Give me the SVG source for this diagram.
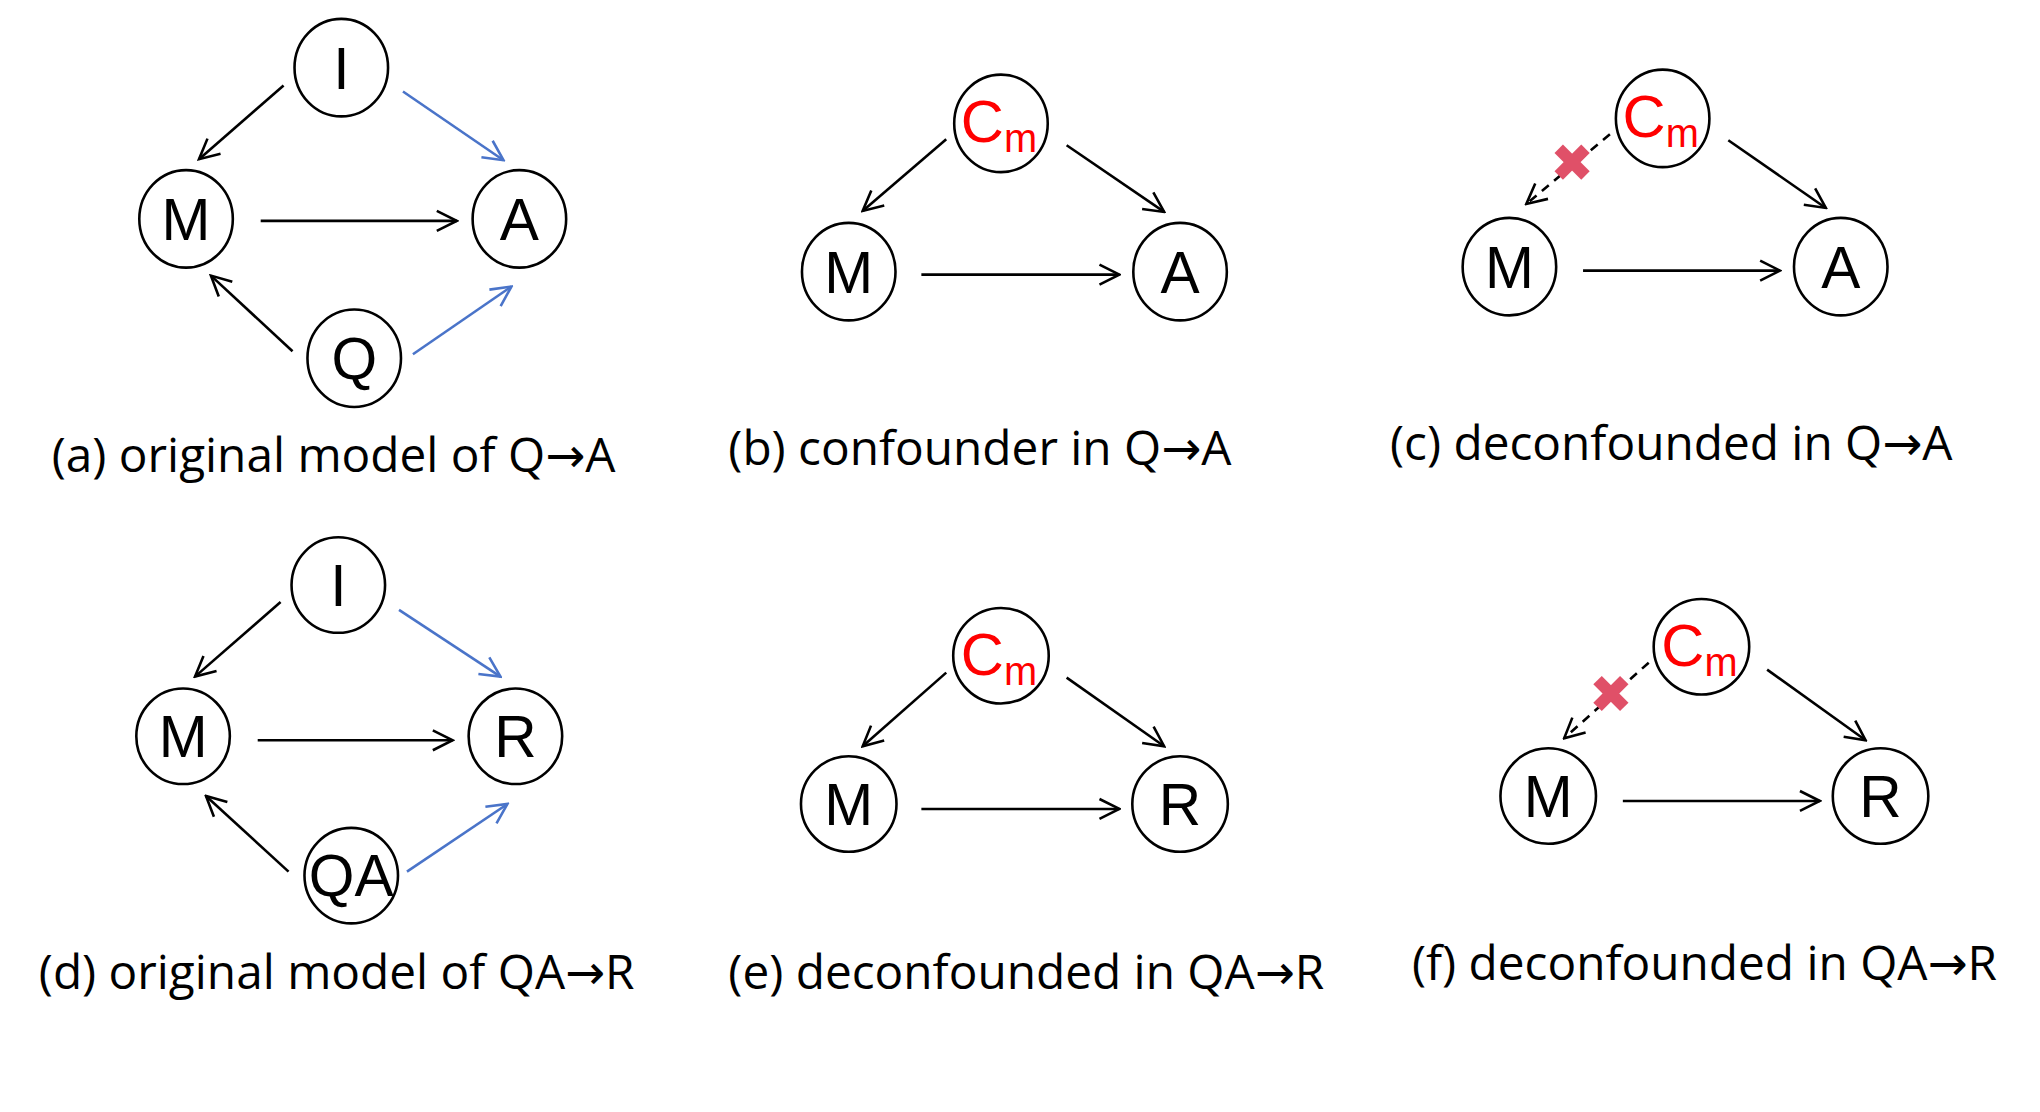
<svg xmlns="http://www.w3.org/2000/svg" width="2040" height="1112" viewBox="0 0 2040 1112">
<style>
.node ellipse{fill:#fff;stroke:#000;stroke-width:2.6}
.lbl{font-family:"Liberation Sans",Arial,sans-serif;font-size:59px;fill:#000;text-anchor:middle}
.cm{font-family:"Liberation Sans",Arial,sans-serif;fill:#ff0000}
.cap{font-family:"Open Sans","Noto Sans",sans-serif;font-size:48px;fill:#000}
.arr{font-family:"DejaVu Sans",sans-serif;font-size:48px}
.e{fill:none;stroke:#000;stroke-width:2.6}
.b{fill:none;stroke:#4a74c9;stroke-width:2.6}
.d{fill:none;stroke:#000;stroke-width:2.6;stroke-dasharray:9 7}
.x{fill:#e05068}
</style>
<defs>
<marker id="ah" viewBox="-24 -13 26 26" markerWidth="26" markerHeight="26" refX="0" refY="0" orient="auto" markerUnits="userSpaceOnUse">
<path d="M-20,-10 L0,0 L-20,10" fill="none" stroke="#000" stroke-width="2.6"/>
</marker>
<marker id="ahb" viewBox="-24 -13 26 26" markerWidth="26" markerHeight="26" refX="0" refY="0" orient="auto" markerUnits="userSpaceOnUse">
<path d="M-20,-10 L0,0 L-20,10" fill="none" stroke="#4a74c9" stroke-width="2.6"/>
</marker>
</defs>
<rect width="2040" height="1112" fill="#fff"/>
<g transform="scale(0.995)">
<g id="connectors">
<line class="e" x1="285" y1="86" x2="200" y2="160" marker-end="url(#ah)"/>
<line class="b" x1="405" y1="92" x2="506" y2="161" marker-end="url(#ahb)"/>
<line class="e" x1="262" y1="222" x2="459" y2="222" marker-end="url(#ah)"/>
<line class="e" x1="294" y1="353" x2="212" y2="277" marker-end="url(#ah)"/>
<line class="b" x1="415" y1="356" x2="514" y2="288" marker-end="url(#ahb)"/>
<line class="e" x1="951" y1="140" x2="867" y2="212" marker-end="url(#ah)"/>
<line class="e" x1="1072" y1="146" x2="1170" y2="213" marker-end="url(#ah)"/>
<line class="e" x1="926" y1="276" x2="1125" y2="276" marker-end="url(#ah)"/>
<line class="d" x1="1618" y1="135" x2="1534" y2="205" marker-end="url(#ah)"/>
<line class="e" x1="1737" y1="141" x2="1835" y2="209" marker-end="url(#ah)"/>
<line class="e" x1="1591" y1="272" x2="1789" y2="272" marker-end="url(#ah)"/>
<line class="e" x1="282" y1="605" x2="196" y2="680" marker-end="url(#ah)"/>
<line class="b" x1="401" y1="613" x2="503" y2="680" marker-end="url(#ahb)"/>
<line class="e" x1="259" y1="744" x2="455" y2="744" marker-end="url(#ah)"/>
<line class="e" x1="290" y1="876" x2="207" y2="800" marker-end="url(#ah)"/>
<line class="b" x1="409" y1="876" x2="510" y2="808" marker-end="url(#ahb)"/>
<line class="e" x1="951" y1="676" x2="867" y2="750" marker-end="url(#ah)"/>
<line class="e" x1="1072" y1="681" x2="1170" y2="750" marker-end="url(#ah)"/>
<line class="e" x1="926" y1="813" x2="1125" y2="813" marker-end="url(#ah)"/>
<line class="d" x1="1657" y1="666" x2="1572" y2="742" marker-end="url(#ah)"/>
<line class="e" x1="1776" y1="673" x2="1875" y2="744" marker-end="url(#ah)"/>
<line class="e" x1="1631" y1="805" x2="1829" y2="805" marker-end="url(#ah)"/>
</g>

<g id="cross-c" class="x" transform="translate(1580,163) rotate(45)">
<rect x="-19" y="-6" width="38" height="12"/><rect x="-6" y="-19" width="12" height="38"/>
</g>
<g id="cross-f" class="x" transform="translate(1619,697) rotate(45)">
<rect x="-19" y="-6" width="38" height="12"/><rect x="-6" y="-19" width="12" height="38"/>
</g>

<g id="a-I" class="node"><ellipse cx="343" cy="68" rx="47" ry="49"/><text class="lbl" x="343" y="89">I</text></g>
<g id="a-M" class="node"><ellipse cx="187" cy="220" rx="47" ry="49"/><text class="lbl" x="187" y="241">M</text></g>
<g id="a-A" class="node"><ellipse cx="522" cy="220" rx="47" ry="49"/><text class="lbl" x="522" y="241">A</text></g>
<g id="a-Q" class="node"><ellipse cx="356" cy="360" rx="47" ry="49"/><text class="lbl" x="356" y="381">Q</text></g>
<text id="cap-a" class="cap" x="52" y="474">(a) original model of Q<tspan class="arr">→</tspan>A</text>

<g id="b-Cm" class="node"><ellipse cx="1006" cy="124" rx="47" ry="49"/><text class="cm" x="1004" y="143" text-anchor="middle"><tspan font-size="60">C</tspan><tspan font-size="40" dy="10">m</tspan></text></g>
<g id="b-M" class="node"><ellipse cx="853" cy="273" rx="47" ry="49"/><text class="lbl" x="853" y="294">M</text></g>
<g id="b-A" class="node"><ellipse cx="1186" cy="273" rx="47" ry="49"/><text class="lbl" x="1186" y="294">A</text></g>
<text id="cap-b" class="cap" x="732" y="467">(b) confounder in Q<tspan class="arr">→</tspan>A</text>

<g id="c-Cm" class="node"><ellipse cx="1671" cy="119" rx="47" ry="49"/><text class="cm" x="1669" y="138" text-anchor="middle"><tspan font-size="60">C</tspan><tspan font-size="40" dy="10">m</tspan></text></g>
<g id="c-M" class="node"><ellipse cx="1517" cy="268" rx="47" ry="49"/><text class="lbl" x="1517" y="289">M</text></g>
<g id="c-A" class="node"><ellipse cx="1850" cy="268" rx="47" ry="49"/><text class="lbl" x="1850" y="289">A</text></g>
<text id="cap-c" class="cap" x="1397" y="462">(c) deconfounded in Q<tspan class="arr">→</tspan>A</text>

<g id="d-I" class="node"><ellipse cx="340" cy="588" rx="47" ry="48"/><text class="lbl" x="340" y="609">I</text></g>
<g id="d-M" class="node"><ellipse cx="184" cy="740" rx="47" ry="48"/><text class="lbl" x="184" y="761">M</text></g>
<g id="d-R" class="node"><ellipse cx="518" cy="740" rx="47" ry="48"/><text class="lbl" x="518" y="761">R</text></g>
<g id="d-QA" class="node"><ellipse cx="353" cy="880" rx="47" ry="48"/><text class="lbl" x="353" y="901">QA</text></g>
<text id="cap-d" class="cap" x="39" y="994">(d) original model of QA<tspan class="arr">→</tspan>R</text>

<g id="e-Cm" class="node"><ellipse cx="1006" cy="659" rx="48" ry="48"/><text class="cm" x="1004" y="678" text-anchor="middle"><tspan font-size="60">C</tspan><tspan font-size="40" dy="10">m</tspan></text></g>
<g id="e-M" class="node"><ellipse cx="853" cy="808" rx="48" ry="48"/><text class="lbl" x="853" y="829">M</text></g>
<g id="e-R" class="node"><ellipse cx="1186" cy="808" rx="48" ry="48"/><text class="lbl" x="1186" y="829">R</text></g>
<text id="cap-e" class="cap" x="732" y="994">(e) deconfounded in QA<tspan class="arr">→</tspan>R</text>

<g id="f-Cm" class="node"><ellipse cx="1710" cy="650" rx="48" ry="48"/><text class="cm" x="1708" y="669" text-anchor="middle"><tspan font-size="60">C</tspan><tspan font-size="40" dy="10">m</tspan></text></g>
<g id="f-M" class="node"><ellipse cx="1556" cy="800" rx="48" ry="48"/><text class="lbl" x="1556" y="821">M</text></g>
<g id="f-R" class="node"><ellipse cx="1890" cy="800" rx="48" ry="48"/><text class="lbl" x="1890" y="821">R</text></g>
<text id="cap-f" class="cap" x="1419" y="985">(f) deconfounded in QA<tspan class="arr">→</tspan>R</text>
</g>
</svg>
